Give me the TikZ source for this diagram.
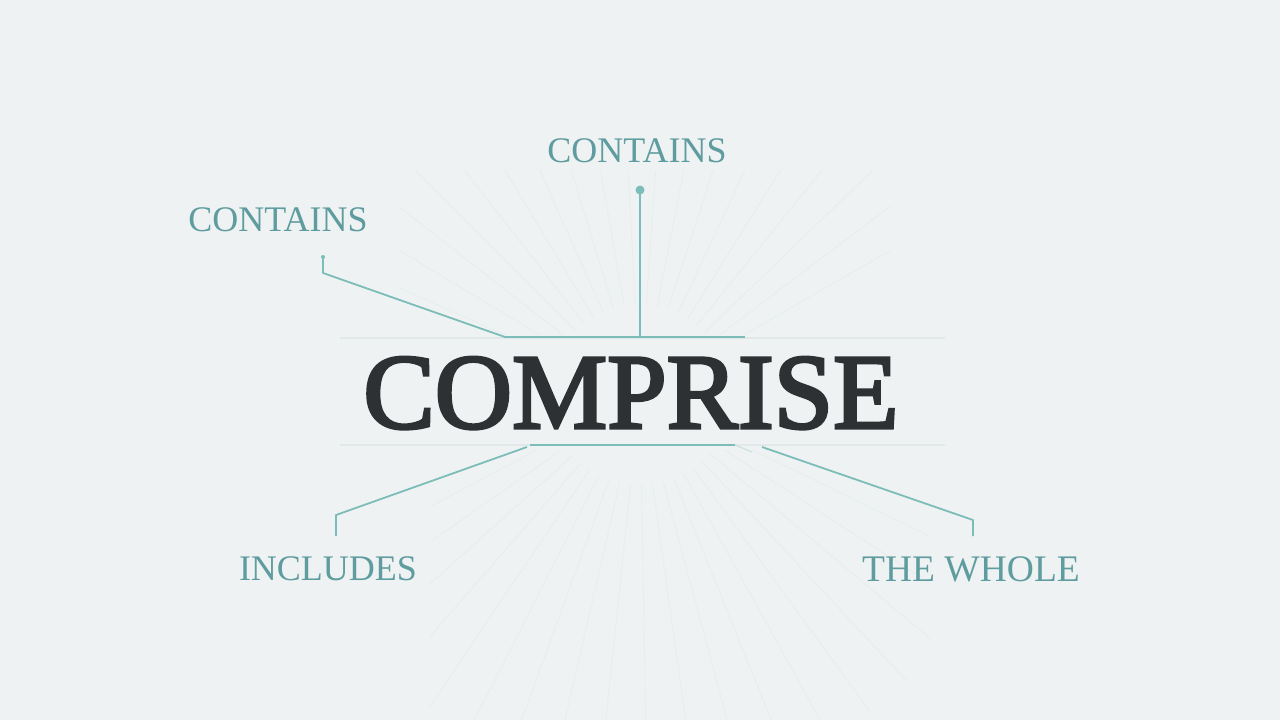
\documentclass[tikz,border=0pt]{standalone}
\usepackage{fontspec}
\setmainfont{Liberation Serif}
\newfontfamily\bigserif[FakeBold=3]{Liberation Serif}
\definecolor{bg}{HTML}{EEF2F2}
\definecolor{ray}{HTML}{E7EDED}
\definecolor{teal}{HTML}{5F9C9F}
\definecolor{conn}{HTML}{7DBDB9}
\definecolor{guide}{HTML}{E2E8E8}
\definecolor{ink}{HTML}{2E3133}
\tikzset{
  label/.style={font=\fontsize{36}{36}\selectfont, text=teal, inner sep=0pt, anchor=base},
  connector/.style={draw=conn, line width=1.8pt, line join=round},
  guideline/.style={draw=guide, line width=1.2pt},
  rayline/.style={draw=ray, line width=0.8pt},
}
\begin{document}
\begin{tikzpicture}[x=1pt,y=-1pt]
\fill[bg] (0,0) rectangle (1280,720);
\useasboundingbox (0,0) rectangle (1280,720);
% faint rays
\begin{scope}
\clip (400,170) rectangle (890,334);
\foreach \a in {-156,-149,...,-24} \draw[rayline] (640,395) ++(\a:90) -- ++(\a:260);
\end{scope}
\begin{scope}
\clip (430,450) rectangle (930,720);
\foreach \a in {26,33,...,156} \draw[rayline] (640,395) ++(\a:90) -- ++(\a:300);
\end{scope}
% guide lines
\draw[guideline] (340,338) -- (945,338);
\draw[guideline] (340,445) -- (945,445);
% main word
\node[font=\bigserif\fontsize{107}{107}\selectfont, text=ink, inner sep=0pt, anchor=base] (main) at (631,428) {COMPRISE};
% labels
\node[label] (ctop) at (637,162) {CONTAINS};
\node[label] (cleft) at (278,231) {CONTAINS};
\node[label] (incl) at (328,580) {INCLUDES};
\node[label, font=\fontsize{37.5}{37.5}\selectfont] (whole) at (971,581) {THE WHOLE};
% connector points
\coordinate (tl0) at (505,337);
\coordinate (tr0) at (745,337);
\coordinate (bl0) at (530,445);
\coordinate (br0) at (735,445);
\coordinate (topdot) at (640,190);
\coordinate (topbase) at (640,337);
\coordinate (lbend) at (323,273);
\coordinate (ltip) at (323,257);
\coordinate (blstart) at (527,447);
\coordinate (blbend) at (336,515);
\coordinate (blend) at (336,536);
\coordinate (brstart) at (762,447);
\coordinate (brbend) at (973,520);
\coordinate (brend) at (973,536);
% connectors
\draw[connector] (tl0) -- (tr0);
\draw[connector] (bl0) -- (br0);
\draw[connector] (topbase) -- (topdot);
\fill[conn] (topdot) circle (4.5);
\draw[connector] (tl0) -- (lbend) -- (ltip);
\fill[conn] (ltip) circle (2);
\draw[connector] (blstart) -- (blbend) -- (blend);
\draw[connector] (brstart) -- (brbend) -- (brend);
\draw[guideline, draw=guide!80!conn] (735,445) -- (752,452);
\end{tikzpicture}
\end{document}
